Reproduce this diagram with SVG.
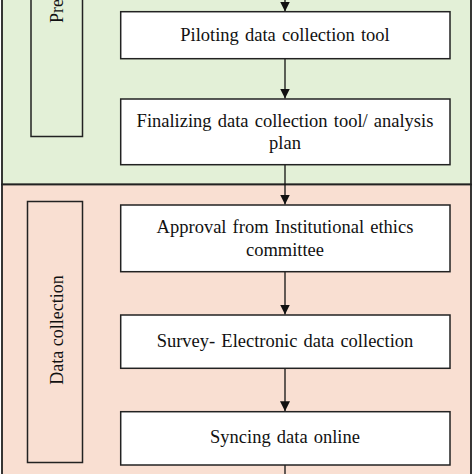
<svg xmlns="http://www.w3.org/2000/svg" width="474" height="474" viewBox="0 0 474 474">
<defs>
<marker id="ah" viewBox="0 0 10 10" refX="10" refY="5" markerWidth="10" markerHeight="10" markerUnits="userSpaceOnUse" orient="auto">
<path d="M0,0 L10,5 L0,10 z" fill="#111"/>
</marker>
<style>
.box{fill:#fff;stroke:#222;stroke-width:1.5}
.side{fill:none;stroke:#222;stroke-width:1.5}
.t{font-family:"Liberation Serif","Times New Roman",serif;font-size:18.5px;fill:#111;text-anchor:middle;word-spacing:1.5px}
.s{font-family:"Liberation Serif","Times New Roman",serif;font-size:18px;fill:#111;text-anchor:middle}
.c{stroke:#111;stroke-width:1.3;fill:none;marker-end:url(#ah)}
</style>
</defs>
<rect x="0" y="0" width="474" height="474" fill="#fff"/>
<g id="phase-prep">
<rect x="2" y="-2" width="469" height="186.5" fill="#e3f0d7" stroke="#222" stroke-width="1.8"/>
<rect class="side" x="31" y="-5" width="51.5" height="141.5"/>
<text class="s" transform="translate(63,23) rotate(-90)" style="text-anchor:start">Pre</text>
</g>
<g id="phase-data">
<rect x="2" y="184.5" width="469" height="300" fill="#f9dfd2" stroke="#222" stroke-width="1.8"/>
<rect class="side" x="27.5" y="201.5" width="55" height="261"/>
<text class="s" transform="translate(63,330) rotate(-90)">Data collection</text>
</g>
<g id="connectors">
<line class="c" x1="285" y1="-2" x2="285" y2="11.5"/>
<line class="c" x1="285" y1="58.7" x2="285" y2="98.5"/>
<line class="c" x1="285" y1="164.7" x2="285" y2="204.5"/>
<line class="c" x1="285" y1="271.7" x2="285" y2="314.5"/>
<line class="c" x1="285" y1="368.3" x2="285" y2="411.2"/>
<line stroke="#111" stroke-width="1.3" x1="285" y1="465" x2="285" y2="476"/>
</g>
<g id="n1">
<rect class="box" x="120.7" y="11.7" width="329.3" height="47"/>
<text class="t" x="285" y="41">Piloting data collection tool</text>
</g>
<g id="n2">
<rect class="box" x="120.7" y="99" width="329.3" height="65.7"/>
<text class="t" x="285" y="127">Finalizing data collection tool/ analysis</text>
<text class="t" x="285" y="149">plan</text>
</g>
<g id="n3">
<rect class="box" x="120.7" y="205" width="329.3" height="66.7"/>
<text class="t" x="285" y="233">Approval from Institutional ethics</text>
<text class="t" x="285" y="255.5">committee</text>
</g>
<g id="n4">
<rect class="box" x="120.7" y="315" width="329.3" height="53.3"/>
<text class="t" x="285" y="347">Survey- Electronic data collection</text>
</g>
<g id="n5">
<rect class="box" x="120.7" y="411.7" width="329.3" height="53.3"/>
<text class="t" x="285" y="443">Syncing data online</text>
</g>
</svg>
